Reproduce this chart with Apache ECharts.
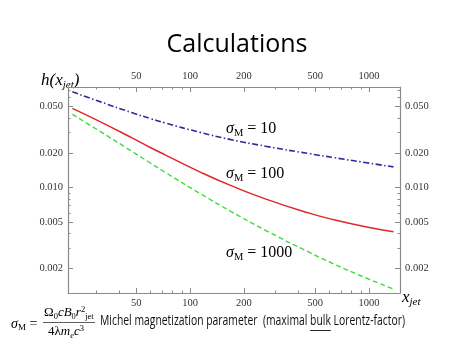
<!DOCTYPE html>
<html>
<head>
<meta charset="utf-8">
<script src="https://cdn.jsdelivr.net/npm/echarts@6/dist/echarts.min.js"></script>
<style>
html,body{margin:0;padding:0;background:#fff;}
#chart{width:474px;height:355px;}
</style>
</head>
<body>
<div id="chart"></div>
<script>
// ---- data ----
const xJet = [22, 31, 48, 60, 73, 114, 167, 268, 468, 632, 970, 1370];
const sigma10 = [0.0673, 0.0556, 0.0441, 0.0395, 0.0361, 0.0300, 0.0261, 0.0227, 0.0196, 0.0182, 0.0164, 0.0151];
const sigma100 = [0.0484, 0.0375, 0.0266, 0.0222, 0.0191, 0.01363, 0.01051, 0.00792, 0.00599, 0.00530, 0.00458, 0.00416];
const sigma1000 = [0.0430, 0.0310, 0.0203, 0.01632, 0.01349, 0.00888, 0.00630, 0.00423, 0.00274, 0.00220, 0.00165, 0.00133];

const xTickLabels = [50, 100, 200, 500, 1000];
const xMinorTicks = [30, 40, 60, 70, 80, 90, 300, 400, 600, 700, 800, 900];
const yTickLabels = [0.002, 0.005, 0.01, 0.02, 0.05];
const yMinorTicks = [0.003, 0.004, 0.006, 0.007, 0.008, 0.009, 0.03, 0.04, 0.06, 0.07];
const xRange = [20.8, 1490];
const yRange = [0.00123, 0.074];

const L = Math.log10;
const pairs = (xs, ys) => xs.map((x, i) => [L(x), L(ys[i])]);

const frameColor = '#8a8a8a';
const labelFont = {fontFamily: 'Liberation Serif', fontSize: 10.5, color: '#333'};
const xFmt = v => String(Math.round(Math.pow(10, v)));
const yFmt = v => Math.pow(10, v).toFixed(3);

function xAx(pos, minor) {
  return {
    type: 'value', position: pos, min: L(xRange[0]), max: L(xRange[1]),
    axisLine: {show: !minor, lineStyle: {color: frameColor, width: 1.2}},
    splitLine: {show: false},
    axisTick: {show: true, inside: true, length: minor ? 2.5 : 5,
      customValues: (minor ? xMinorTicks : xTickLabels).map(L),
      lineStyle: {color: frameColor}},
    axisLabel: minor ? {show: false} : Object.assign({show: true, margin: 5,
      customValues: xTickLabels.map(L), formatter: xFmt}, labelFont)
  };
}
function yAx(pos, minor) {
  return {
    type: 'value', position: pos, min: L(yRange[0]), max: L(yRange[1]),
    axisLine: {show: !minor, lineStyle: {color: frameColor, width: 1.2}},
    splitLine: {show: false},
    axisTick: {show: true, inside: true, length: minor ? 2.5 : 5,
      customValues: (minor ? yMinorTicks : yTickLabels).map(L),
      lineStyle: {color: frameColor}},
    axisLabel: minor ? {show: false} : Object.assign({show: true, margin: 5,
      customValues: yTickLabels.map(L), formatter: yFmt}, labelFont)
  };
}

// measure description text to fit reference width and place underline
const descFont = '14px "Open Sans"';
const descText = 'Michel magnetization parameter  (maximal bulk Lorentz-factor)';
const cv = document.createElement('canvas').getContext('2d');
cv.font = descFont;
const fullW = cv.measureText(descText).width;
const preW = cv.measureText('Michel magnetization parameter  (maximal ').width;
const bulkW = cv.measureText('bulk').width;
const descLeft = 100;
const descScale = 305 / fullW;

const serif = 'Liberation Serif';
const sigRich = {
  s: {fontFamily: serif, fontStyle: 'italic', fontSize: 16, lineHeight: 20, color: '#222'},
  m: {fontFamily: serif, fontSize: 10.5, lineHeight: 20, verticalAlign: 'bottom', color: '#222'},
  n: {fontFamily: serif, fontSize: 16, lineHeight: 20, color: '#222'}
};
const fracRich = {
  r: {fontFamily: serif, fontSize: 13, lineHeight: 16, color: '#222'},
  i: {fontFamily: serif, fontStyle: 'italic', fontSize: 13, lineHeight: 16, color: '#222'},
  s: {fontFamily: serif, fontSize: 8.5, lineHeight: 16, verticalAlign: 'bottom', color: '#222'},
  si: {fontFamily: serif, fontStyle: 'italic', fontSize: 8.5, lineHeight: 16, verticalAlign: 'bottom', color: '#222'},
  p: {fontFamily: serif, fontSize: 8.5, lineHeight: 16, verticalAlign: 'top', color: '#222'}
};

const chart = echarts.init(document.getElementById('chart'), null, {renderer: 'canvas'});
chart.setOption({
  animation: false,
  backgroundColor: '#fff',
  title: {text: 'Calculations', left: 'center', top: 27,
    textStyle: {fontFamily: 'Open Sans', fontSize: 25, fontWeight: 'normal', color: '#000'}},
  grid: {left: 68, right: 74, top: 87, bottom: 62, containLabel: false},
  xAxis: [xAx('bottom', false), xAx('top', false), xAx('bottom', true), xAx('top', true)],
  yAxis: [yAx('left', false), yAx('right', false), yAx('left', true), yAx('right', true)],
  series: [
    {type: 'line', name: 'σM = 10', data: pairs(xJet, sigma10), smooth: 0.5, showSymbol: false,
      lineStyle: {color: '#2b2b9e', width: 1.6, type: [6, 2.5, 1.5, 2.5]}},
    {type: 'line', name: 'σM = 100', data: pairs(xJet, sigma100), smooth: 0.5, showSymbol: false,
      lineStyle: {color: '#e0262b', width: 1.5, type: 'solid'}},
    {type: 'line', name: 'σM = 1000', data: pairs(xJet, sigma1000), smooth: 0.5, showSymbol: false,
      lineStyle: {color: '#3ddc3d', width: 1.4, type: [5, 3]}}
  ],
  graphic: [
    {type: 'text', left: 41, top: 72, style: {text: '{a|h(x}{b|jet}{a|)}', rich: {
      a: {fontFamily: serif, fontStyle: 'italic', fontSize: 17, lineHeight: 20, color: '#222'},
      b: {fontFamily: serif, fontStyle: 'italic', fontSize: 11, lineHeight: 20, verticalAlign: 'bottom', color: '#222'}}}},
    {type: 'text', left: 402, top: 289, style: {text: '{a|x}{b|jet}', rich: {
      a: {fontFamily: serif, fontStyle: 'italic', fontSize: 17, lineHeight: 20, color: '#222'},
      b: {fontFamily: serif, fontStyle: 'italic', fontSize: 11, lineHeight: 20, verticalAlign: 'bottom', color: '#222'}}}},
    {type: 'text', left: 226, top: 121, style: {text: '{s|σ}{m|M}{n| = 10}', rich: sigRich}},
    {type: 'text', left: 226, top: 166, style: {text: '{s|σ}{m|M}{n| = 100}', rich: sigRich}},
    {type: 'text', left: 226, top: 245, style: {text: '{s|σ}{m|M}{n| = 1000}', rich: sigRich}},
    // formula
    {type: 'text', left: 11, top: 317, style: {text: '{s|σ}{m|M}{n| =}', rich: {
      s: {fontFamily: serif, fontStyle: 'italic', fontSize: 14, lineHeight: 17, color: '#222'},
      m: {fontFamily: serif, fontSize: 9, lineHeight: 17, verticalAlign: 'bottom', color: '#222'},
      n: {fontFamily: serif, fontSize: 14, lineHeight: 17, color: '#222'}}}},
    {type: 'text', left: 44, top: 305, style: {text: '{r|Ω}{s|0}{i|cB}{s|0}{i|r}{p|2}{s|jet}', rich: fracRich}},
    {type: 'line', shape: {x1: 43, y1: 322.5, x2: 95, y2: 322.5}, style: {stroke: '#333', lineWidth: 0.8}},
    {type: 'text', left: 48, top: 324, style: {text: '{r|4λ}{i|m}{si|e}{i|c}{p|3}', rich: fracRich}},
    {type: 'text', x: descLeft, y: 314, scaleX: descScale, style: {text: descText, font: descFont, fill: '#111'}},
    {type: 'line', shape: {x1: descLeft + preW * descScale, y1: 330.5, x2: descLeft + (preW + bulkW) * descScale, y2: 330.5},
      style: {stroke: '#111', lineWidth: 0.9}}
  ]
});
</script>
</body>
</html>
